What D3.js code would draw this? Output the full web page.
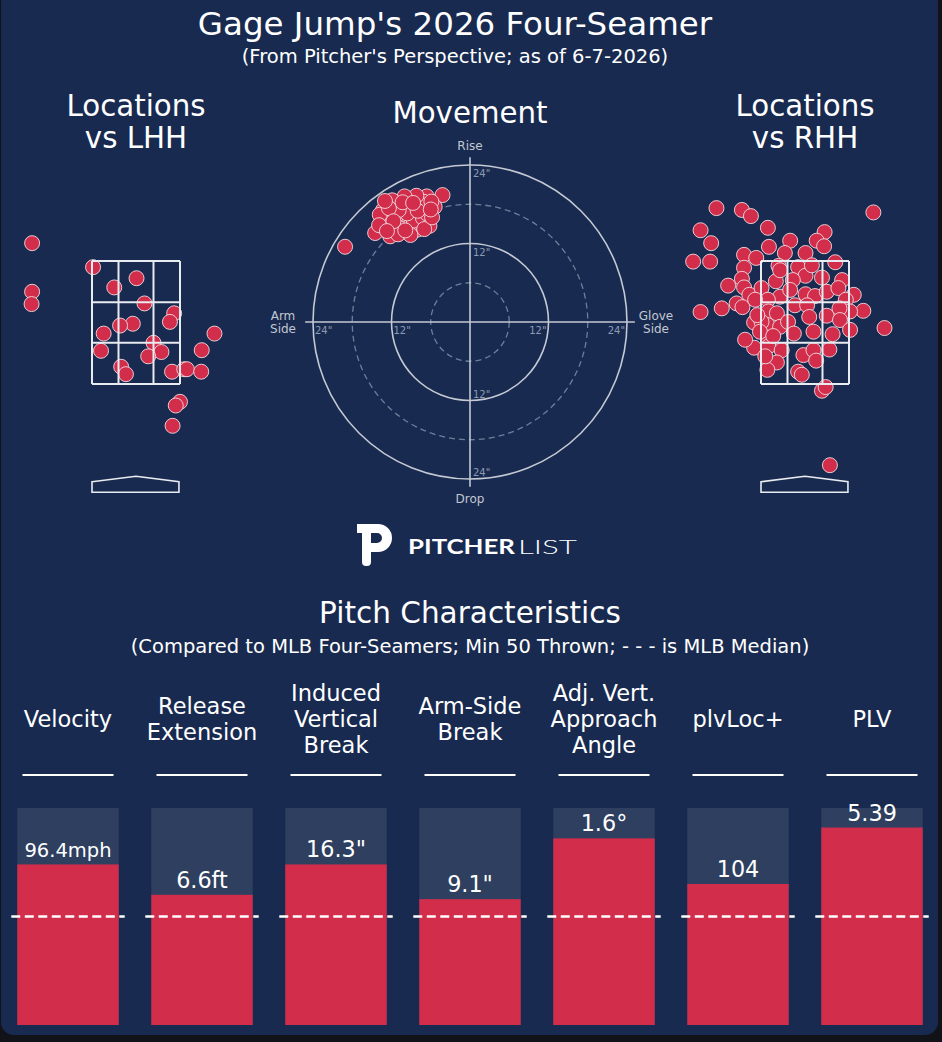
<!DOCTYPE html>
<html>
<head>
<meta charset="UTF-8">
<title></title>
<script src="https://cdn.jsdelivr.net/npm/d3@7/dist/d3.min.js"></script>
<style>
    body{margin:0;background:#121318;}
    text{font-family:"DejaVu Sans",sans-serif;fill:#ffffff;}
</style>
</head>
<body>
<svg width="942" height="1042"></svg>
<script>
// pitch locations (feet, pitcher's view) vs LHH
var lhhX = [-1.96,-1.96,-1.97,-0.81,0.01,-0.41,0.16,0.72,0.64,-0.06,-0.30,-0.61,1.48,0.33,1.24,-0.66,0.48,0.23,-0.28,-0.19,0.68,0.91,0.96,1.23,0.83,0.75,0.69];
var lhhZ = [3.79,3.00,2.80,3.40,3.22,3.07,2.81,2.65,2.51,2.48,2.45,2.32,2.32,2.17,2.05,2.04,2.02,1.95,1.78,1.66,1.70,1.74,1.74,1.70,1.21,1.15,0.82];

// pitch locations vs RHH
var rhhX = [-1.67,-1.19,-1.02,1.29,-1.97,-0.70,0.37,0.22,0.36,-0.28,-1.77,-0.68,-2.11,-1.79,-1.15,-0.92,-0.38,0.01,-1.15,-0.50,-0.13,-1.19,-1.45,-0.55,0.01,0.32,0.70,-0.23,-1.15,-1.05,-0.82,-0.47,0.01,0.19,0.41,0.63,0.92,0.77,-1.29,-1.18,-1.57,-1.97,-0.70,-0.19,0.04,1.10,0.85,1.50,-0.69,-0.53,0.08,0.41,0.65,0.66,-0.96,-0.71,-0.47,-0.32,-0.21,0.16,0.52,-0.69,-0.96,-0.69,-0.44,-0.03,0.16,0.46,-0.53,-0.71,-0.13,0.21,-0.06,0.32,0.39,0.47,-0.82,-0.85,-1.13,-0.28,0.13,0.57,-0.47,0.85,-0.94,-0.75,-0.60,-0.90];
var rhhZ = [4.36,4.33,4.23,4.29,4.00,4.04,3.97,3.83,3.74,3.83,3.79,3.73,3.49,3.49,3.60,3.55,3.63,3.63,3.39,3.42,3.40,3.21,3.10,3.17,3.26,3.23,3.19,3.19,3.07,2.95,3.06,2.92,2.96,2.93,3.00,3.06,2.95,2.87,2.81,2.75,2.73,2.67,2.87,2.78,2.78,2.69,2.68,2.41,2.68,2.65,2.59,2.61,2.73,2.54,2.50,2.46,2.43,2.51,2.32,2.35,2.31,2.24,2.09,2.11,2.05,1.97,2.05,2.06,1.85,1.73,1.70,1.88,1.65,1.39,1.45,0.18,2.51,2.35,2.22,3.03,3.43,3.48,3.35,2.38,2.87,1.95,2.28,2.62];

// movement (inches): horizontal break (negative = arm side), induced vertical break
var movHB = [-4.2,-6.6,-8.8,-12.8,-10.7,-7.1,-5.4,-13.3,-12.0,-10.4,-8.4,-7.5,-6.4,-13.5,-12.5,-10.8,-9.2,-7.6,-6.2,-14.5,-12.2,-9.7,-8.1,-19.1,
    -11.5,-9.8,-8.9,-10.1,-11.3,-12.9,-9.4,-7.8,-6.9,-5.9,-8.2,-10.0,-11.9,-13.8,-12.0,-10.6,-9.0,-11.0,-8.6,-7.2,-6.6,-9.6,-10.9,-12.4,-8.0,-13.9,-9.1,-7.0,-5.8,-10.3,-11.7,-12.7,-8.7,-6.0,-13.0,-9.9];
var movIVB = [19.4,19.2,18.9,17.9,18.4,18.4,17.6,17.1,16.9,16.7,17.1,16.4,17.1,15.6,15.3,15.2,15.6,14.6,14.7,13.6,13.1,13.8,14.1,11.5,
    17.8,17.5,16.2,15.9,16.2,16.0,18.6,18.0,17.8,18.4,19.3,19.2,18.6,16.4,14.2,14.3,14.9,13.4,15.5,15.9,16.6,16.6,17.1,17.4,17.0,14.8,13.3,14.2,16.0,18.3,15.4,13.9,18.2,17.2,18.5,14.0];
var movRings = [6, 12, 18, 24];

// strike zone grid and plate (feet)
var zoneX = [-0.83, -0.33, 0.33, 0.83];
var zoneZ = [1.5, 2.17, 2.83, 3.5];
var plateX = [-0.83, 0, 0.81, 0.81, -0.83];
var plateZ = [-0.09, 0.0, -0.09, -0.26, -0.26];

// pitch characteristics
var metrics = ["Velocity", "Release\nExtension", "Induced\nVertical\nBreak", "Arm-Side\nBreak", "Adj. Vert.\nApproach\nAngle", "plvLoc+", "PLV"];
var valueLabels = ["96.4mph", "6.6ft", "16.3\"", "9.1\"", "1.6°", "104", "5.39"];
var percentiles = [74, 60, 74, 58, 86, 65, 91];
var mlbMedian = 50;

var red = "#d22d4b", navy = "#182a4f";
var svg = d3.select("svg");

svg.append("rect").attr("x", 1).attr("y", -12).attr("width", 937).attr("height", 1047)
    .attr("rx", 13).attr("fill", navy);

// titles
svg.append("text").attr("x", 455).attr("y", 35).attr("text-anchor", "middle")
    .style("font-size", "32.5px").text("Gage Jump's 2026 Four-Seamer");
svg.append("text").attr("x", 455).attr("y", 63).attr("text-anchor", "middle")
    .style("font-size", "19.5px").text("(From Pitcher's Perspective; as of 6-7-2026)");

function multiline(g, str, x, y, size, lh) {
    var lines = str.split("\n");
    var t = g.append("text").attr("text-anchor", "middle").style("font-size", size + "px");
    lines.forEach(function (l, i) {
        t.append("tspan").attr("x", x).attr("y", y + (i - (lines.length - 1) / 2) * lh).text(l);
    });
    return t;
}
multiline(svg, "Locations\nvs LHH", 136, 132, 29.3, 32);
multiline(svg, "Locations\nvs RHH", 805, 132, 29.3, 32);
multiline(svg, "Movement", 470, 123, 29.3, 32);

// location panels
function drawLocations(cx, xs, zs) {
    var x = d3.scaleLinear().domain([-0.83, 0.83]).range([cx - 44, cx + 44]);
    var y = d3.scaleLinear().domain([1.5, 3.5]).range([384, 261]);
    var g = svg.append("g");
    g.selectAll("circle").data(xs).enter().append("circle")
        .attr("cx", function (d) { return x(d); })
        .attr("cy", function (d, i) { return y(zs[i]); })
        .attr("r", 7.5).attr("fill", red)
        .attr("stroke", "#f2dde2").attr("stroke-width", 0.9);
    zoneX.forEach(function (v) {
        g.append("line").attr("x1", x(v)).attr("x2", x(v)).attr("y1", y(1.5)).attr("y2", y(3.5))
            .attr("stroke", "#e8ebf0").attr("stroke-width", 2);
    });
    zoneZ.forEach(function (v) {
        g.append("line").attr("x1", x(-0.83)).attr("x2", x(0.83)).attr("y1", y(v)).attr("y2", y(v))
            .attr("stroke", "#e8ebf0").attr("stroke-width", 2);
    });
    var pts = plateX.map(function (d, i) { return [x(d), y(plateZ[i])]; });
    g.append("path").attr("d", d3.line()(pts) + "Z").attr("fill", "none")
        .attr("stroke", "#e8ebf0").attr("stroke-width", 1.6);
}
drawLocations(136, lhhX, lhhZ);
drawLocations(805, rhhX, rhhZ);

// movement plot
var mx = d3.scaleLinear().domain([-24, 24]).range([313, 627]);
var my = d3.scaleLinear().domain([-24, 24]).range([479, 165]);
var mg = svg.append("g");
movRings.forEach(function (r) {
    var solid = r % 12 === 0;
    mg.append("circle").attr("cx", mx(0)).attr("cy", my(0)).attr("r", mx(r) - mx(0))
        .attr("fill", "none")
        .attr("stroke", solid ? "#c4c9d3" : "#6f7e99")
        .attr("stroke-width", solid ? 1.6 : 1.3)
        .attr("stroke-dasharray", solid ? null : "6,4");
});
mg.append("line").attr("x1", mx(-25.2)).attr("x2", mx(25.2)).attr("y1", my(0)).attr("y2", my(0))
    .attr("stroke", "#c4c9d3").attr("stroke-width", 1.6);
mg.append("line").attr("x1", mx(0)).attr("x2", mx(0)).attr("y1", my(25.2)).attr("y2", my(-25.2))
    .attr("stroke", "#c4c9d3").attr("stroke-width", 1.6);
[12, 24].forEach(function (r) {
    var tick = r + '"';
    mg.append("text").attr("x", mx(0) + 3).attr("y", my(r) + 12).text(tick)
        .style("font-size", "10px").style("fill", "#8e9ab2");
    mg.append("text").attr("x", mx(0) + 3).attr("y", my(-r) - 3).text(tick)
        .style("font-size", "10px").style("fill", "#8e9ab2");
    mg.append("text").attr("x", mx(-r) + 2).attr("y", my(0) + 12).text(tick)
        .style("font-size", "10px").style("fill", "#8e9ab2");
    mg.append("text").attr("x", mx(r) - 2).attr("y", my(0) + 12).attr("text-anchor", "end").text(tick)
        .style("font-size", "10px").style("fill", "#8e9ab2");
});
function axLabel(str, x, y) {
    multiline(mg, str, x, y, 12, 13).style("fill", "#c3c8d2");
}
axLabel("Rise", mx(0), 150);
axLabel("Drop", mx(0), 503);
axLabel("Arm\nSide", 283, 326);
axLabel("Glove\nSide", 656, 326);
mg.selectAll(".mv").data(movHB).enter().append("circle").attr("class", "mv")
    .attr("cx", function (d) { return mx(d); })
    .attr("cy", function (d, i) { return my(movIVB[i]); })
    .attr("r", 7.5).attr("fill", red)
    .attr("stroke", "#f2dde2").attr("stroke-width", 0.9);

// logo
var logo = svg.append("g");
logo.append("path")
    .attr("d", "M357,524 H378 A14,14 0 0 1 378,552 H371 V562 Q371,566 367,566 H366 Q362,566 362,562 V533 H357 Z M371,533 H377 A5,5 0 0 1 377,543 H371 Z")
    .attr("fill", "#ffffff").attr("fill-rule", "evenodd");
logo.append("text").attr("x", 408).attr("y", 554).attr("textLength", 107).attr("lengthAdjust", "spacingAndGlyphs")
    .style("font-size", "20px").style("font-weight", "bold").style("font-family", "Lato, sans-serif").text("PITCHER");
logo.append("text").attr("x", 518).attr("y", 554).attr("textLength", 59).attr("lengthAdjust", "spacingAndGlyphs")
    .style("font-size", "20px").style("font-weight", "300").style("font-family", "Lato, sans-serif").text("LIST");

// pitch characteristics
svg.append("text").attr("x", 470).attr("y", 623).attr("text-anchor", "middle")
    .style("font-size", "29.5px").text("Pitch Characteristics");
svg.append("text").attr("x", 470).attr("y", 653).attr("text-anchor", "middle")
    .style("font-size", "19.5px").text("(Compared to MLB Four-Seamers; Min 50 Thrown; - - - is MLB Median)");

var bx = d3.scaleBand().domain(metrics).range([1, 939]).paddingInner(0.243).paddingOuter(0.1215);
var by = d3.scaleLinear().domain([0, 100]).range([1025, 808]);
var bw = bx.bandwidth();
var bars = svg.append("g");

metrics.forEach(function (m, i) {
    var x0 = bx(m), cxm = x0 + bw / 2;
    multiline(bars, m, cxm, 727, 22.5, 26);
    bars.append("line").attr("x1", cxm - 45.5).attr("x2", cxm + 45.5).attr("y1", 775).attr("y2", 775)
        .attr("stroke", "#ffffff").attr("stroke-width", 2);
    bars.append("rect").attr("x", x0).attr("y", by(100)).attr("width", bw).attr("height", by(0) - by(100))
        .attr("fill", "#2e3f5f");
    bars.append("rect").attr("x", x0).attr("y", by(percentiles[i])).attr("width", bw)
        .attr("height", by(0) - by(percentiles[i])).attr("fill", red);
    bars.append("line").attr("x1", x0 - 6).attr("x2", x0 + bw + 6)
        .attr("y1", by(mlbMedian)).attr("y2", by(mlbMedian))
        .attr("stroke", "#ffffff").attr("stroke-width", 2.4).attr("stroke-dasharray", "9,4.5");
    var lbl = valueLabels[i];
    bars.append("text").attr("x", cxm).attr("y", by(percentiles[i]) - 7).attr("text-anchor", "middle")
        .style("font-size", lbl.length > 6 ? "19.5px" : "22.3px").text(lbl);
});
</script>
</body>
</html>
